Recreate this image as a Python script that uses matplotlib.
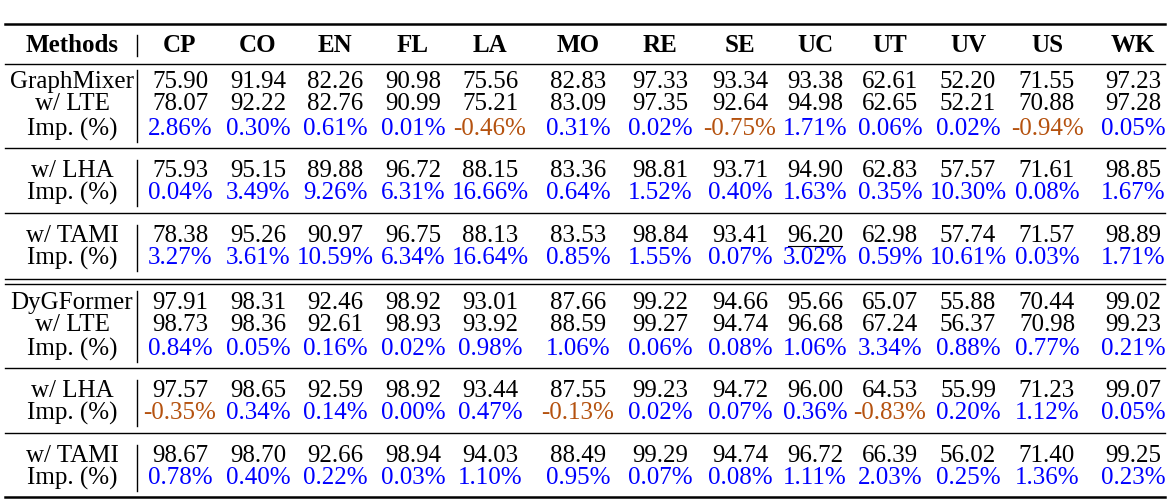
import matplotlib.pyplot as plt

columns = ["CP","CO","EN","FL","LA","MO","RE","SE","UC","UT","UV","US","WK"]
gm = [75.90,91.94,82.26,90.98,75.56,82.83,97.33,93.34,93.38,62.61,52.20,71.55,97.23]
gm_lte = [78.07,92.22,82.76,90.99,75.21,83.09,97.35,92.64,94.98,62.65,52.21,70.88,97.28]
gm_lte_imp = [2.86,0.30,0.61,0.01,-0.46,0.31,0.02,-0.75,1.71,0.06,0.02,-0.94,0.05]
gm_lha = [75.93,95.15,89.88,96.72,88.15,83.36,98.81,93.71,94.90,62.83,57.57,71.61,98.85]
gm_lha_imp = [0.04,3.49,9.26,6.31,16.66,0.64,1.52,0.40,1.63,0.35,10.30,0.08,1.67]
gm_tami = [78.38,95.26,90.97,96.75,88.13,83.53,98.84,93.41,96.20,62.98,57.74,71.57,98.89]
gm_tami_imp = [3.27,3.61,10.59,6.34,16.64,0.85,1.55,0.07,3.02,0.59,10.61,0.03,1.71]
dg = [97.91,98.31,92.46,98.92,93.01,87.66,99.22,94.66,95.66,65.07,55.88,70.44,99.02]
dg_lte = [98.73,98.36,92.61,98.93,93.92,88.59,99.27,94.74,96.68,67.24,56.37,70.98,99.23]
dg_lte_imp = [0.84,0.05,0.16,0.02,0.98,1.06,0.06,0.08,1.06,3.34,0.88,0.77,0.21]
dg_lha = [97.57,98.65,92.59,98.92,93.44,87.55,99.23,94.72,96.00,64.53,55.99,71.23,99.07]
dg_lha_imp = [-0.35,0.34,0.14,0.00,0.47,-0.13,0.02,0.07,0.36,-0.83,0.20,1.12,0.05]
dg_tami = [98.67,98.70,92.66,98.94,94.03,88.49,99.29,94.74,96.72,66.39,56.02,71.40,99.25]
dg_tami_imp = [0.78,0.40,0.22,0.03,1.10,0.95,0.07,0.08,1.11,2.03,0.25,1.36,0.23]

W, H = 1170, 501
fig = plt.figure(figsize=(11.7, 5.01), dpi=100)
ax = fig.add_axes([0, 0, 1, 1])
ax.set_xlim(0, W); ax.set_ylim(H, 0); ax.axis("off")
plt.rcParams['font.family'] = ['Liberation Serif', 'DejaVu Serif']
FS = 18
xs = [180,258,335,413,490,578,660,740,815,890,968,1047,1133]
xm = 72; xbar = 137
BLUE = "#0000ff"; NEG = "#b5520f"

def hline(y, lw=1.0):
    ax.plot([5, 1165], [y, y], color="black", lw=lw)

def vbar(y0, y1):
    ax.plot([xbar, xbar], [y0, y1], color="black", lw=1.0)

hline(24, 1.8)
ax.text(xm, 45, "Methods", ha="center", va="center", fontsize=FS, fontweight="bold")
for x, c in zip(xs, columns):
    ax.text(x, 45, c, ha="center", va="center", fontsize=FS, fontweight="bold")
vbar(35, 56)
hline(64)

def vals(y, label, v):
    ax.text(xm, y, label, ha="center", va="center", fontsize=FS)
    for x, a in zip(xs, v):
        ax.text(x, y, f"{a:.2f}", ha="center", va="center", fontsize=FS)

def imp(y, v):
    ax.text(xm, y, "Imp. (%)", ha="center", va="center", fontsize=FS)
    for x, a in zip(xs, v):
        ax.text(x, y, f"{a:.2f}%", ha="center", va="center", fontsize=FS,
                color=NEG if a < 0 else BLUE)

vals(82, "GraphMixer", gm); vals(104, "w/ LTE", gm_lte); imp(129, gm_lte_imp); vbar(70, 142)
hline(148)
vals(171, "w/ LHA", gm_lha); imp(193, gm_lha_imp); vbar(160, 206)
hline(213)
vals(236, "w/ TAMI", gm_tami); imp(258, gm_tami_imp); vbar(225, 271)
ax.plot([xs[8]-27, xs[8]+27], [246, 246], color="black", lw=0.8)
hline(279); hline(284)
vals(303, "DyGFormer", dg); vals(325, "w/ LTE", dg_lte); imp(349, dg_lte_imp); vbar(291, 362)
hline(368)
vals(391, "w/ LHA", dg_lha); imp(413, dg_lha_imp); vbar(380, 426)
hline(433)
vals(456, "w/ TAMI", dg_tami); imp(478, dg_tami_imp); vbar(445, 491)
hline(497, 1.8)

fig.savefig("out.png", dpi=100)
